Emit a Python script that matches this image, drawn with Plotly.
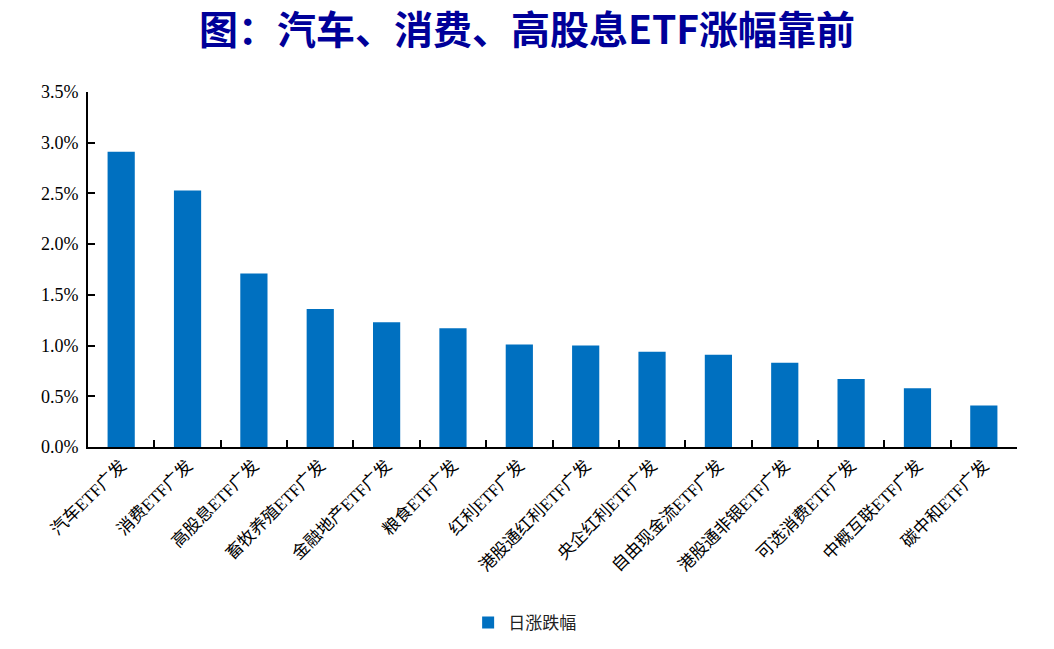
import plotly.graph_objects as go

categories = ['汽车ETF广发', '消费ETF广发', '高股息ETF广发', '畜牧养殖ETF广发', '金融地产ETF广发',
              '粮食ETF广发', '红利ETF广发', '港股通红利ETF广发', '央企红利ETF广发', '自由现金流ETF广发',
              '港股通非银ETF广发', '可选消费ETF广发', '中概互联ETF广发', '碳中和ETF广发']
daily_change = [0.0291, 0.0253, 0.0171, 0.0136, 0.0123, 0.0117, 0.0101, 0.0100, 0.0094, 0.0091,
                0.0083, 0.0067, 0.0058, 0.0041]
y_ticks = [0, 0.005, 0.01, 0.015, 0.02, 0.025, 0.03, 0.035]

font_serif = 'Liberation Serif, Times New Roman, Noto Sans CJK SC, serif'

fig = go.Figure()
fig.add_trace(go.Bar(
    x=categories, y=daily_change, name='日涨跌幅',
    marker=dict(color='#0070C0', line=dict(width=0)),
    showlegend=True,
))

fig.update_layout(
    width=1054, height=649,
    paper_bgcolor='white', plot_bgcolor='white',
    margin=dict(l=88, r=37, t=92, b=202),
    bargap=0.59,
    title=dict(
        text='<b>图：汽车、消费、高股息ETF涨幅靠前</b>',
        x=0.5, xanchor='center', y=0.954, yanchor='middle',
        font=dict(family='Noto Sans CJK SC', size=39, color='#000099'),
    ),
    font=dict(family=font_serif, size=17, color='black'),
    legend=dict(
        orientation='h', x=0.47, xanchor='center', yref='container', y=0.04, yanchor='middle',
        font=dict(family='Noto Sans CJK SC', size=17, color='#222222'),
    ),
    xaxis=dict(
        type='category', tickangle=-45, showline=True, linecolor='black', linewidth=2,
        ticks='inside', tickson='boundaries', ticklen=7, tickwidth=1.5, tickcolor='black',
        showgrid=False, tickfont=dict(family=font_serif, size=17),
    ),
    yaxis=dict(
        range=[0, 0.035], tickvals=y_ticks, tickformat='.1%', showline=True,
        linecolor='black', linewidth=2, ticks='inside', ticklen=7, tickwidth=1.5,
        tickcolor='black', showgrid=False, zeroline=False, ticklabelstandoff=4,
        tickfont=dict(family=font_serif, size=18),
    ),
)

# drop the default body margin so the figure sits at the window's top-left corner
fig.write_html('out.html', config={'displayModeBar': False},
               post_script="document.body.style.margin='0';")
